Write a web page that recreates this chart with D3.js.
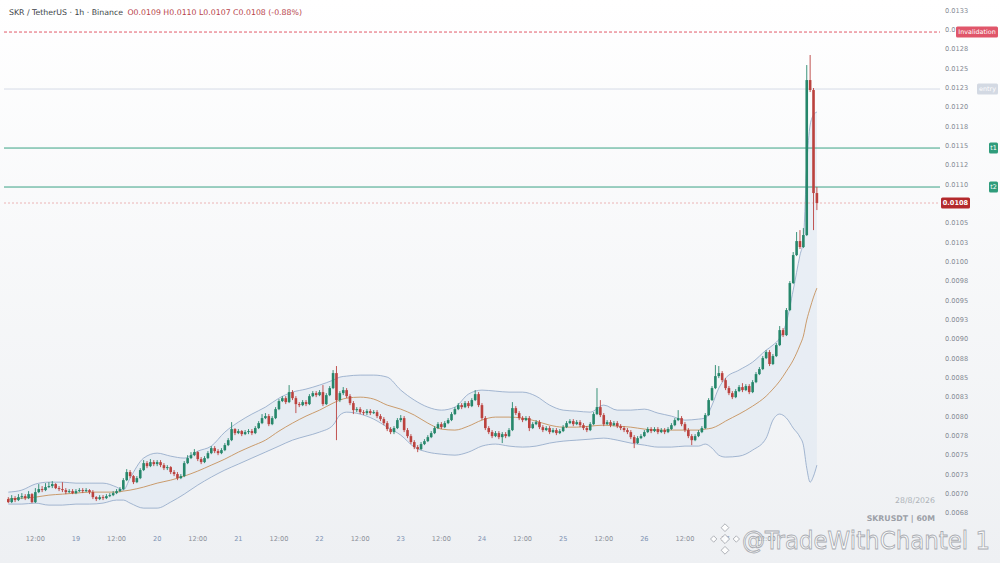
<!DOCTYPE html>
<html>
<head>
<meta charset="utf-8">
<script src="https://cdn.jsdelivr.net/npm/d3@7"></script>
<style>
  body { margin: 0; background: #fff; }
  svg { display: block; font-family: "DejaVu Sans", sans-serif; }
</style>
</head>
<body>
<div id="chart"></div>
<script>
// hourly candles, first one is 18th 04:00 (hour -20 from the 19th 00:00)
var firstHour = -20;

var opens = [
  0.006930,0.006891,0.006942,0.006917,0.006955,0.006968,0.006942,0.006994,0.006891,0.007020,0.007059,0.007046,0.007085,0.007098,0.007124,0.007072,0.007059,0.007046,0.007020,0.007033,
  0.007007,0.007033,0.007046,0.007033,0.007046,0.007020,0.006955,0.006930,0.006955,0.006942,0.006968,0.006981,0.007007,0.007033,0.007059,0.007175,0.007279,0.007227,0.007149,0.007201,0.007305,0.007395,0.007356,0.007408,
  0.007382,0.007408,0.007369,0.007330,0.007343,0.007279,0.007253,0.007201,0.007227,0.007395,0.007460,0.007498,0.007537,0.007447,0.007408,0.007460,0.007524,0.007589,0.007550,0.007524,0.007563,0.007628,0.007692,0.007835,
  0.007783,0.007809,0.007770,0.007796,0.007809,0.007783,0.007848,0.007912,0.007977,0.008003,0.007899,0.007977,0.008093,0.008197,0.008235,0.008184,0.008313,0.008235,0.008158,0.008145,0.008184,0.008158,0.008261,0.008300,
  0.008274,0.008313,0.008158,0.008274,0.008365,0.008559,0.008210,0.008300,0.008339,0.008261,0.008171,0.008080,0.008093,0.008054,0.008042,0.008067,0.008042,0.008054,0.008003,0.007964,0.007912,0.007835,0.007796,0.007848,
  0.007951,0.007977,0.007822,0.007744,0.007667,0.007602,0.007576,0.007641,0.007679,0.007731,0.007783,0.007848,0.007899,0.007860,0.007912,0.007951,0.008029,0.008093,0.008145,0.008119,0.008171,0.008132,0.008210,0.008287,
  0.008145,0.007977,0.007848,0.007796,0.007744,0.007783,0.007731,0.007770,0.007744,0.007822,0.008106,0.008042,0.007977,0.007951,0.007977,0.007848,0.007899,0.007925,0.007860,0.007822,0.007848,0.007796,0.007822,0.007783,
  0.007809,0.007860,0.007912,0.007938,0.007899,0.007925,0.007886,0.007848,0.007822,0.007899,0.008029,0.008119,0.008016,0.007899,0.007925,0.007886,0.007912,0.007873,0.007848,0.007822,0.007796,0.007731,0.007654,0.007718,
  0.007744,0.007796,0.007835,0.007809,0.007835,0.007796,0.007822,0.007796,0.007835,0.007886,0.007951,0.007977,0.007899,0.007822,0.007744,0.007692,0.007744,0.007796,0.007848,0.008016,0.008210,0.008365,0.008520,0.008559,
  0.008468,0.008365,0.008300,0.008248,0.008326,0.008378,0.008339,0.008391,0.008313,0.008442,0.008546,0.008611,0.008753,0.008831,0.008676,0.008779,0.008921,0.009115,0.009050,0.009374,0.009723,0.010085,0.010266,0.010189,0.010344,0.012348,0.012219,0.010887
];

var highs = [
  0.006955,0.006981,0.006968,0.006994,0.007007,0.006994,0.007033,0.007007,0.007072,0.007124,0.007098,0.007136,0.007149,0.007162,0.007136,0.007098,0.007149,0.007072,0.007059,0.007059,
  0.007059,0.007072,0.007072,0.007072,0.007059,0.007046,0.006968,0.006981,0.006981,0.006994,0.007007,0.007033,0.007059,0.007085,0.007201,0.007317,0.007305,0.007240,0.007227,0.007330,0.007434,0.007421,0.007447,0.007434,
  0.007434,0.007434,0.007395,0.007369,0.007356,0.007305,0.007279,0.007253,0.007421,0.007498,0.007537,0.007576,0.007550,0.007473,0.007485,0.007550,0.007615,0.007615,0.007576,0.007589,0.007654,0.007718,0.007925,0.007848,
  0.007835,0.007822,0.007822,0.007835,0.007835,0.007873,0.007938,0.008029,0.008042,0.008029,0.008003,0.008119,0.008223,0.008261,0.008261,0.008404,0.008339,0.008261,0.008184,0.008210,0.008210,0.008287,0.008326,0.008326,
  0.008339,0.008404,0.008300,0.008391,0.008598,0.008650,0.008326,0.008378,0.008365,0.008287,0.008197,0.008119,0.008119,0.008080,0.008093,0.008093,0.008080,0.008080,0.008029,0.007990,0.007938,0.007860,0.007873,0.007977,
  0.008016,0.008003,0.007848,0.007770,0.007692,0.007628,0.007667,0.007705,0.007757,0.007809,0.007873,0.007925,0.007925,0.007938,0.007977,0.008054,0.008119,0.008171,0.008171,0.008197,0.008197,0.008235,0.008339,0.008313,
  0.008171,0.008003,0.007873,0.007822,0.007809,0.007809,0.007796,0.007796,0.007848,0.008184,0.008132,0.008067,0.008003,0.008003,0.008003,0.007925,0.007951,0.007951,0.007886,0.007873,0.007873,0.007848,0.007848,0.007835,
  0.007886,0.007938,0.007964,0.007964,0.007951,0.007951,0.007912,0.007873,0.007925,0.008054,0.008365,0.008210,0.008042,0.007951,0.007951,0.007938,0.007938,0.007899,0.007873,0.007848,0.007822,0.007757,0.007744,0.007770,
  0.007822,0.007860,0.007860,0.007860,0.007860,0.007848,0.007848,0.007860,0.007912,0.007977,0.008080,0.008003,0.007925,0.007848,0.007770,0.007770,0.007822,0.007873,0.008042,0.008235,0.008391,0.008663,0.008650,0.008585,
  0.008494,0.008391,0.008326,0.008352,0.008404,0.008429,0.008416,0.008416,0.008468,0.008572,0.008637,0.008779,0.008856,0.008856,0.008805,0.008947,0.009167,0.009141,0.009400,0.009749,0.010124,0.010383,0.010408,0.010434,0.012542,0.012672,0.012245,0.010965
];

var lows = [
  0.006878,0.006878,0.006891,0.006904,0.006930,0.006917,0.006930,0.006878,0.006878,0.007007,0.007020,0.007033,0.007072,0.007072,0.007059,0.007033,0.007020,0.006994,0.007007,0.006994,
  0.006994,0.007020,0.007007,0.007020,0.006994,0.006930,0.006904,0.006917,0.006917,0.006930,0.006955,0.006968,0.006994,0.007020,0.007046,0.007162,0.007201,0.007124,0.007136,0.007188,0.007292,0.007330,0.007343,0.007356,
  0.007356,0.007343,0.007305,0.007305,0.007253,0.007227,0.007175,0.007188,0.007214,0.007382,0.007447,0.007485,0.007421,0.007382,0.007395,0.007447,0.007511,0.007524,0.007498,0.007511,0.007550,0.007615,0.007679,0.007757,
  0.007770,0.007744,0.007757,0.007770,0.007757,0.007770,0.007835,0.007899,0.007964,0.007873,0.007886,0.007964,0.008080,0.008184,0.008158,0.008171,0.008210,0.008042,0.008119,0.008132,0.008132,0.008145,0.008248,0.008248,
  0.008261,0.008132,0.008145,0.008261,0.008352,0.007692,0.008184,0.008274,0.008235,0.008145,0.008029,0.008054,0.008029,0.008016,0.008016,0.008016,0.008029,0.007977,0.007938,0.007886,0.007809,0.007770,0.007770,0.007835,
  0.007925,0.007796,0.007718,0.007641,0.007576,0.007537,0.007563,0.007628,0.007667,0.007718,0.007770,0.007835,0.007835,0.007848,0.007899,0.007938,0.008016,0.008080,0.008093,0.008106,0.008106,0.008119,0.008197,0.008119,
  0.007951,0.007822,0.007770,0.007718,0.007731,0.007705,0.007654,0.007718,0.007731,0.007809,0.008016,0.007951,0.007925,0.007938,0.007809,0.007835,0.007886,0.007835,0.007796,0.007809,0.007770,0.007783,0.007757,0.007770,
  0.007796,0.007848,0.007899,0.007873,0.007886,0.007860,0.007822,0.007796,0.007809,0.007886,0.008016,0.007990,0.007873,0.007886,0.007860,0.007873,0.007848,0.007822,0.007796,0.007770,0.007705,0.007589,0.007641,0.007705,
  0.007731,0.007783,0.007783,0.007796,0.007770,0.007783,0.007770,0.007783,0.007822,0.007873,0.007938,0.007873,0.007796,0.007718,0.007628,0.007679,0.007731,0.007783,0.007835,0.008003,0.008197,0.008352,0.008494,0.008442,
  0.008339,0.008274,0.008223,0.008235,0.008313,0.008313,0.008326,0.008287,0.008300,0.008429,0.008533,0.008598,0.008740,0.008650,0.008663,0.008766,0.008908,0.009025,0.009038,0.009361,0.009710,0.010072,0.010163,0.010176,0.010331,0.012193,0.010408,0.010667
];

var closes = [
  0.006891,0.006942,0.006917,0.006955,0.006968,0.006942,0.006994,0.006891,0.007020,0.007059,0.007046,0.007085,0.007098,0.007124,0.007072,0.007059,0.007046,0.007020,0.007033,0.007007,
  0.007033,0.007046,0.007033,0.007046,0.007020,0.006955,0.006930,0.006955,0.006942,0.006968,0.006981,0.007007,0.007033,0.007059,0.007175,0.007279,0.007227,0.007149,0.007201,0.007305,0.007395,0.007356,0.007408,0.007382,
  0.007408,0.007369,0.007330,0.007343,0.007279,0.007253,0.007201,0.007227,0.007395,0.007460,0.007498,0.007537,0.007447,0.007408,0.007460,0.007524,0.007589,0.007550,0.007524,0.007563,0.007628,0.007692,0.007835,0.007783,
  0.007809,0.007770,0.007796,0.007809,0.007783,0.007848,0.007912,0.007977,0.008003,0.007899,0.007977,0.008093,0.008197,0.008235,0.008184,0.008313,0.008235,0.008158,0.008145,0.008184,0.008158,0.008261,0.008300,0.008274,
  0.008313,0.008158,0.008274,0.008365,0.008559,0.008210,0.008300,0.008339,0.008261,0.008171,0.008080,0.008093,0.008054,0.008042,0.008067,0.008042,0.008054,0.008003,0.007964,0.007912,0.007835,0.007796,0.007848,0.007951,
  0.007977,0.007822,0.007744,0.007667,0.007602,0.007576,0.007641,0.007679,0.007731,0.007783,0.007848,0.007899,0.007860,0.007912,0.007951,0.008029,0.008093,0.008145,0.008119,0.008171,0.008132,0.008210,0.008287,0.008145,
  0.007977,0.007848,0.007796,0.007744,0.007783,0.007731,0.007770,0.007744,0.007822,0.008106,0.008042,0.007977,0.007951,0.007977,0.007848,0.007899,0.007925,0.007860,0.007822,0.007848,0.007796,0.007822,0.007783,0.007809,
  0.007860,0.007912,0.007938,0.007899,0.007925,0.007886,0.007848,0.007822,0.007899,0.008029,0.008119,0.008016,0.007899,0.007925,0.007886,0.007912,0.007873,0.007848,0.007822,0.007796,0.007731,0.007654,0.007718,0.007744,
  0.007796,0.007835,0.007809,0.007835,0.007796,0.007822,0.007796,0.007835,0.007886,0.007951,0.007977,0.007899,0.007822,0.007744,0.007692,0.007744,0.007796,0.007848,0.008016,0.008210,0.008365,0.008520,0.008559,0.008468,
  0.008365,0.008300,0.008248,0.008326,0.008378,0.008339,0.008391,0.008313,0.008442,0.008546,0.008611,0.008753,0.008831,0.008676,0.008779,0.008921,0.009115,0.009050,0.009374,0.009723,0.010085,0.010266,0.010189,0.010344,0.012348,0.012219,0.010887,0.010758
];

// bollinger bands (hour, upper / basis / lower)
var bandHours = [-20,-16,-12,-8,-4,0,4,8,12,14,16,20,24,28,32,36,40,44,48,52,56,60,64,68,72,76,78,80,84,88,92,96,100,104,108,112,116,120,124,128,132,136,140,144,148,152,156,160,164,168,172,176,180,184,186,188,190,192,196,200,204,206,208,210,212,214,215,216,217,218,219];
var bbUpper = [0.007020,0.007046,0.007124,0.007149,0.007149,0.007136,0.007136,0.007136,0.007085,0.007046,0.007201,0.007460,0.007524,0.007485,0.007460,0.007550,0.007615,0.007796,0.007925,0.008029,0.008119,0.008235,0.008313,0.008352,0.008404,0.008468,0.008507,0.008520,0.008533,0.008533,0.008507,0.008339,0.008210,0.008119,0.008080,0.008119,0.008287,0.008339,0.008326,0.008313,0.008313,0.008261,0.008145,0.008080,0.008067,0.008054,0.008145,0.008080,0.008080,0.008093,0.008042,0.008003,0.007951,0.007964,0.007977,0.008145,0.008365,0.008494,0.008598,0.008701,0.008856,0.008921,0.009012,0.009219,0.009632,0.010085,0.010279,0.011249,0.011766,0.011896,0.011935];
var bbBasis = [0.006930,0.006942,0.006955,0.006981,0.006994,0.007007,0.007020,0.007020,0.007020,0.007033,0.007046,0.007085,0.007136,0.007175,0.007227,0.007292,0.007369,0.007447,0.007537,0.007615,0.007692,0.007809,0.007912,0.008003,0.008080,0.008171,0.008210,0.008235,0.008248,0.008223,0.008145,0.008093,0.008016,0.007912,0.007835,0.007822,0.007873,0.007951,0.007990,0.007990,0.007977,0.007938,0.007886,0.007860,0.007860,0.007873,0.007886,0.007873,0.007860,0.007835,0.007822,0.007822,0.007822,0.007822,0.007835,0.007848,0.007886,0.007938,0.008029,0.008132,0.008261,0.008352,0.008455,0.008585,0.008727,0.008921,0.009038,0.009245,0.009400,0.009542,0.009658];
var bbLower = [0.006865,0.006865,0.006878,0.006852,0.006852,0.006865,0.006865,0.006878,0.006917,0.006917,0.006878,0.006813,0.006813,0.006891,0.006994,0.007111,0.007214,0.007305,0.007382,0.007460,0.007537,0.007615,0.007692,0.007744,0.007796,0.007886,0.008016,0.008054,0.008029,0.007964,0.007860,0.007757,0.007602,0.007537,0.007511,0.007498,0.007537,0.007615,0.007641,0.007615,0.007602,0.007615,0.007654,0.007679,0.007692,0.007705,0.007718,0.007692,0.007654,0.007628,0.007602,0.007602,0.007615,0.007615,0.007641,0.007589,0.007498,0.007473,0.007485,0.007563,0.007718,0.007951,0.008029,0.007977,0.007848,0.007731,0.007628,0.007330,0.007149,0.007227,0.007369];

// trade levels drawn as horizontal lines
var levelNames = ["Invalidation", "entry", "t1", "t2"];
var levelValues = [0.012969, 0.012232, 0.011469, 0.010965];

// price axis, 0.00025 steps
var priceTicks = [0.00675,0.00700,0.00725,0.00750,0.00775,0.00800,0.00825,0.00850,0.00875,0.00900,0.00925,0.00950,0.00975,0.01000,0.01025,0.01050,0.01075,0.01100,0.01125,0.01150,0.01175,0.01200,0.01225,0.01250,0.01275,0.01300,0.01325];
var priceLabels = ["0.0068","0.0070","0.0073","0.0075","0.0078","0.0080","0.0083","0.0085","0.0088","0.0090","0.0093","0.0095","0.0098","0.0100","0.0103","0.0105","0.0108","0.0110","0.0112","0.0115","0.0118","0.0120","0.0123","0.0125","0.0128","0.0130","0.0133"];

// time axis (hours from the 19th 00:00)
var timeTicks = [-12,0,12,24,36,48,60,72,84,96,108,120,132,144,156,168,180,192,204];
var timeLabels = ["12:00","19","12:00","20","12:00","21","12:00","22","12:00","23","12:00","24","12:00","25","12:00","26","12:00","27","12:00"];

var W = 1000, H = 563;
var UP = "#26876b", DOWN = "#bb423e";

var svg = d3.select("#chart").append("svg")
  .attr("width", W)
  .attr("height", H);

// soft white -> grey background
var defs = svg.append("defs");
var grad = defs.append("linearGradient").attr("id", "bg").attr("x1", 0).attr("y1", 0).attr("x2", 0).attr("y2", 1);
grad.append("stop").attr("offset", "0%").attr("stop-color", "#ffffff");
grad.append("stop").attr("offset", "100%").attr("stop-color", "#eef0f3");
svg.append("rect").attr("width", W).attr("height", H).attr("fill", "url(#bg)");

var x = d3.scaleLinear().domain([-20, 219]).range([8.3, 816.9]);
var y = d3.scaleLinear().domain([0.00675, 0.01325]).range([513, 10.3]);

var candles = closes.map(function(c, i) {
  return { h: firstHour + i, o: opens[i], hi: highs[i], lo: lows[i], c: c };
});
var bands = bandHours.map(function(h, i) {
  return { h: h, u: bbUpper[i], m: bbBasis[i], l: bbLower[i] };
});

// ---- bollinger bands ----
var g = svg.append("g");
g.append("path")
  .datum(bands)
  .attr("fill", "#dfe7f1")
  .attr("fill-opacity", 0.6)
  .attr("d", d3.area()
    .curve(d3.curveMonotoneX)
    .x(function(d) { return x(d.h); })
    .y0(function(d) { return y(d.l); })
    .y1(function(d) { return y(d.u); }));

["u", "l"].forEach(function(k) {
  g.append("path")
    .datum(bands)
    .attr("fill", "none")
    .attr("stroke", "#8ea6c6")
    .attr("stroke-width", 0.8)
    .attr("d", d3.line().curve(d3.curveMonotoneX)
      .x(function(d) { return x(d.h); })
      .y(function(d) { return y(d[k]); }));
});

g.append("path")
  .datum(bands)
  .attr("fill", "none")
  .attr("stroke", "#c6925c")
  .attr("stroke-width", 0.9)
  .attr("d", d3.line().curve(d3.curveMonotoneX)
    .x(function(d) { return x(d.h); })
    .y(function(d) { return y(d.m); }));

// ---- level lines ----
var levelStyle = [
  { stroke: "#e25a6a", dash: "3,2", fill: "#e0566a", tagW: 42 },
  { stroke: "#d5dbe7", dash: null, fill: "#d3d9e3", tagW: 21 },
  { stroke: "#3aa386", dash: null, fill: "#2f9c7b", tagW: 9 },
  { stroke: "#3aa386", dash: null, fill: "#2f9c7b", tagW: 9 }
];

levelValues.forEach(function(v, i) {
  svg.append("line")
    .attr("x1", 4).attr("x2", 940)
    .attr("y1", y(v)).attr("y2", y(v))
    .attr("stroke", levelStyle[i].stroke)
    .attr("stroke-width", 1)
    .attr("stroke-dasharray", levelStyle[i].dash);
});

// last price line
var last = closes[closes.length - 1];
svg.append("line")
  .attr("x1", 4).attr("x2", 940)
  .attr("y1", y(last)).attr("y2", y(last))
  .attr("stroke", "#e9a3a3")
  .attr("stroke-width", 0.8)
  .attr("stroke-dasharray", "2,2");

// ---- candles ----
var cg = svg.append("g");
var node = cg.selectAll("g.c")
  .data(candles)
  .enter().append("g")
  .attr("class", "c");

node.append("line")
  .attr("x1", function(d) { return x(d.h); })
  .attr("x2", function(d) { return x(d.h); })
  .attr("y1", function(d) { return y(d.hi); })
  .attr("y2", function(d) { return y(d.lo); })
  .attr("stroke", function(d) { return d.c >= d.o ? UP : DOWN; })
  .attr("stroke-width", 0.9);

node.append("rect")
  .attr("x", function(d) { return x(d.h) - 1.3; })
  .attr("width", 2.6)
  .attr("y", function(d) { return y(Math.max(d.o, d.c)); })
  .attr("height", function(d) { return Math.max(1, Math.abs(y(d.o) - y(d.c))); })
  .attr("fill", function(d) { return d.c >= d.o ? UP : DOWN; });

// ---- price axis ----
var ax = svg.append("g").attr("font-size", 6.6).attr("fill", "#858a94");
ax.selectAll("text")
  .data(priceTicks)
  .enter().append("text")
  .attr("x", 945)
  .attr("y", function(d) { return y(d) + 2.4; })
  .text(function(d, i) { return priceLabels[i]; });

// level tags on the right
levelValues.forEach(function(v, i) {
  var s = levelStyle[i];
  var tg = svg.append("g");
  tg.append("rect")
    .attr("x", 998 - s.tagW).attr("y", y(v) - 5.5)
    .attr("width", s.tagW).attr("height", 11)
    .attr("rx", 1.5)
    .attr("fill", s.fill);
  tg.append("text")
    .attr("x", 998 - s.tagW / 2).attr("y", y(v) + 2.4)
    .attr("text-anchor", "middle")
    .attr("font-size", 6.4)
    .attr("fill", "#fff")
    .text(levelNames[i]);
});

// last price tag
svg.append("rect")
  .attr("x", 941).attr("y", y(last) - 5.5)
  .attr("width", 29).attr("height", 11)
  .attr("rx", 1.5)
  .attr("fill", "#b3292c");
svg.append("text")
  .attr("x", 955.5).attr("y", y(last) + 2.4)
  .attr("text-anchor", "middle")
  .attr("font-size", 6.6)
  .attr("font-weight", "bold")
  .attr("fill", "#fff")
  .text(d3.format(".4f")(last));

// ---- time axis ----
svg.append("g").selectAll("text")
  .data(timeTicks)
  .enter().append("text")
  .attr("x", function(d) { return x(d); })
  .attr("y", 541)
  .attr("text-anchor", "middle")
  .attr("font-size", 6.6)
  .attr("fill", function(d, i) { return timeLabels[i].length > 2 ? "#8c9099" : "#7f93b3"; })
  .text(function(d, i) { return timeLabels[i]; });

// ---- header ----
var hd = svg.append("text").attr("x", 9).attr("y", 15).attr("font-size", 7.8);
hd.append("tspan").attr("fill", "#3c3f47").text("SKR / TetherUS · 1h · Binance ");
hd.append("tspan").attr("fill", "#b8434a").attr("dx", 2).text("O0.0109 H0.0110 L0.0107 C0.0108 (-0.88%)");

// ---- corner info ----
svg.append("text")
  .attr("x", 935).attr("y", 503)
  .attr("text-anchor", "end")
  .attr("font-size", 7.8)
  .attr("fill", "#aeb2b9")
  .text("28/8/2026");
svg.append("text")
  .attr("x", 935).attr("y", 521)
  .attr("text-anchor", "end")
  .attr("font-size", 7.8)
  .attr("font-weight", "bold")
  .attr("fill", "#9ca0a7")
  .text("SKRUSDT | 60M");

// ---- watermark (binance mark + handle) ----
var wm = svg.append("g").attr("opacity", 0.9);
var logo = wm.append("g").attr("transform", "translate(725,539) rotate(45)");
[[0, 0, 6.5], [-8, -8, 5.5], [8, 8, 5.5], [-8, 8, 4.5], [8, -8, 4.5]].forEach(function(s) {
  logo.append("rect")
    .attr("x", s[0] - s[2] / 2).attr("y", s[1] - s[2] / 2)
    .attr("width", s[2]).attr("height", s[2])
    .attr("fill", "#fff")
    .attr("stroke", "#a5a8ae")
    .attr("stroke-width", 0.9);
});
wm.append("text")
  .attr("x", 742).attr("y", 549)
  .attr("font-size", 25)
  .attr("textLength", 248)
  .attr("lengthAdjust", "spacingAndGlyphs")
  .attr("fill", "#ffffff")
  .attr("stroke", "#a2a5ab")
  .attr("stroke-width", 0.9)
  .text("@TradeWithChantel 1");
</script>
</body>
</html>
